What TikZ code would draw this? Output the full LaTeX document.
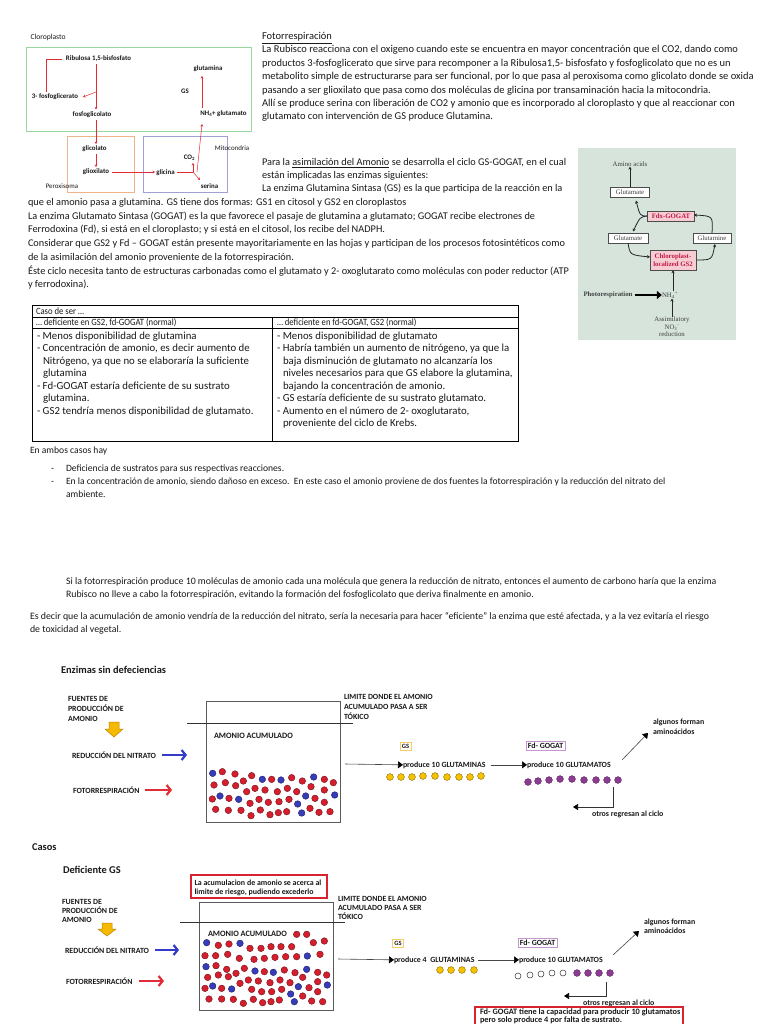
\documentclass[tikz,border=0pt]{standalone}
\usepackage{fontspec}
\setmainfont{Carlito}
\newfontfamily\figserif{Liberation Serif}
\usetikzlibrary{arrows.meta}
\definecolor{txt}{RGB}{25,25,25}
\definecolor{chlgreen}{RGB}{150,215,160}
\definecolor{perorange}{RGB}{240,180,140}
\definecolor{mitblue}{RGB}{160,160,215}
\definecolor{arrred}{RGB}{225,45,55}
\definecolor{figbg}{RGB}{214,228,220}
\definecolor{figpink}{RGB}{245,205,210}
\definecolor{figred}{RGB}{195,25,70}
\definecolor{dotred}{RGB}{215,30,45}
\definecolor{dotredl}{RGB}{110,20,30}
\definecolor{dotblue}{RGB}{55,60,185}
\definecolor{dotbluel}{RGB}{30,30,100}
\definecolor{dotpur}{RGB}{140,60,145}
\definecolor{dotpurl}{RGB}{90,30,95}
\definecolor{dotyel}{RGB}{245,195,0}
\definecolor{dotyell}{RGB}{140,100,0}
\definecolor{arryel}{RGB}{245,185,0}
\definecolor{arryell}{RGB}{190,130,0}
\definecolor{arrblue}{RGB}{50,60,200}
\definecolor{gsyel}{RGB}{245,205,100}
\definecolor{gogatpur}{RGB}{195,150,205}
\definecolor{boxred}{RGB}{215,35,45}
\definecolor{boxgray}{RGB}{90,90,90}
\newcommand{\fpara}{\fontsize{10.5}{12}\selectfont}
\newcommand{\fparb}{\fontsize{10.3}{12}\selectfont}
\newcommand{\ftab}{\fontsize{10.8}{12}\selectfont}
\newcommand{\ftxt}{\fontsize{9.6}{11}\selectfont}
\newcommand{\ftxb}{\fontsize{9.85}{11}\selectfont}
\newcommand{\fsm}{\fontsize{6.9}{8}\selectfont}
\newcommand{\fcap}{\fontsize{7.9}{9}\selectfont}
\newcommand{\ffig}{\fontsize{6.8}{7.6}\selectfont}
\newcommand{\RDot}[2]{\filldraw[fill=dotred,draw=dotredl,line width=0.4pt] (#1,#2) circle (3.3pt);}
\newcommand{\BDot}[2]{\filldraw[fill=dotblue,draw=dotbluel,line width=0.4pt] (#1,#2) circle (3.3pt);}
\newcommand{\YDot}[2]{\filldraw[fill=dotyel,draw=dotyell,line width=0.4pt] (#1,#2) circle (3.4pt);}
\newcommand{\PDot}[2]{\filldraw[fill=dotpur,draw=dotpurl,line width=0.4pt] (#1,#2) circle (3.4pt);}
\newcommand{\ODot}[2]{\draw[draw=black!80,line width=0.5pt] (#1,#2) circle (3pt);}
\begin{document}
\begin{tikzpicture}[x=1pt,y=-1pt,
  ln/.style={anchor=base west, inner sep=0pt, outer sep=0pt, text=txt},
  para/.style={ln, font=\fpara},
  parb/.style={ln, font=\fparb},
  tabl/.style={ln, font=\ftab},
  txtl/.style={ln, font=\ftxt},
  txtb/.style={ln, font=\ftxb},
  lab/.style={anchor=center, inner sep=0.3pt, font=\bfseries\fsm, text=txt},
  labn/.style={anchor=center, inner sep=0.3pt, font=\fsm, text=txt},
  capl/.style={ln, font=\bfseries\fcap},
  rarr/.style={draw=arrred, line width=0.5pt, -{Stealth[length=2.6pt,width=2.8pt]}},
  rline/.style={draw=arrred, line width=0.5pt},
  flowarr/.style={draw=gray!55!black, line width=0.6pt, -{Triangle[length=5pt,width=7pt,color=black]}},
  backarr/.style={draw=gray!40!black, line width=0.7pt, -{Triangle[length=5pt,width=6pt,color=black]}},
  bluearr/.style={draw=arrblue, line width=2.2pt, -{Straight Barb[length=4pt,width=10pt]}},
  redarr/.style={draw=arrred, line width=2.2pt, -{Straight Barb[length=4pt,width=10pt]}},
  yelarr/.style={fill=arryel, draw=arryell, line width=0.5pt},
  enzbox/.style={anchor=center, inner sep=1.8pt, font=\bfseries\fcap, text=txt, line width=0.8pt},
  figbox/.style={draw=gray!60!black, fill=white, line width=0.5pt, inner sep=0.8pt, font=\figserif\ffig, text=black!75},
  pinkbox/.style={draw=gray!60!black, fill=figpink, line width=0.5pt, inner sep=1pt, font=\figserif\bfseries\ffig, text=figred, align=center},
  figtxt/.style={inner sep=0pt, font=\figserif\ffig, text=black!75, align=center},
  figarr/.style={draw=black!85, line width=0.8pt, -{Stealth[length=3pt,width=3.2pt]}}
]
\useasboundingbox (0,0) rectangle (768,1024);
\fill[white] (0,0) rectangle (768,1024);
\clip (0,0) rectangle (768,1024);

% ---------------- chloroplast scheme ----------------
\node[labn, anchor=west, font=\fontsize{7.6}{8}\selectfont] (clot) at (30,37) {Cloroplasto};
\draw[chlgreen, line width=0.8pt] (26,47) rectangle (251,131);
\draw[perorange, line width=0.8pt] (67,136) rectangle (134,192);
\draw[mitblue, line width=0.8pt] (143,136) rectangle (227,192);
\node[lab] (ribu) at (98.5,59) {Ribulosa 1,5-bisfosfato};
\node[lab] (fgc) at (55,97) {3- fosfoglicerato};
\node[lab] (fgl) at (92,115) {fosfoglicolato};
\node[lab] (gtm) at (208,69) {glutamina};
\node[lab] (gsl) at (185,91) {GS};
\node[lab] (nh4) at (223.5,114) {NH\textsubscript{4}+ glutamato};
\node[lab] (glc) at (94.5,149) {glicolato};
\node[lab] (glx) at (96,172) {glioxilato};
\node[labn] (perox) at (62,186) {Peroxisoma};
\node[lab] (gli) at (165.5,173) {glicina};
\node[lab] (co2) at (189.5,158) {CO\textsubscript{2}};
\node[labn] (mito) at (232,148) {Mitocondria};
\node[lab] (ser) at (209.5,186) {serina};
\coordinate (rA) at (96,64); \coordinate (rB) at (96,109.5);
\coordinate (rC) at (96,92); \coordinate (rD) at (83,97);
\coordinate (rE) at (62,59); \coordinate (rF) at (46,59); \coordinate (rG) at (46,92);
\coordinate (rH) at (96,120); \coordinate (rI) at (96,144);
\coordinate (rJ) at (96,154); \coordinate (rK) at (96,167);
\coordinate (rL) at (112,172); \coordinate (rM) at (155,172);
\coordinate (rN) at (177,172); \coordinate (rO) at (193,172);
\coordinate (rP) at (193,163); \coordinate (rQ) at (200,180);
\coordinate (rR) at (197,172); \coordinate (rS) at (202,124);
\coordinate (rT) at (202,108); \coordinate (rU) at (202,76);
\draw[rarr] (rA) -- (rB);
\draw[rarr] (rC) -- (rD);
\draw[rline] (rE) -- (rF) -- (rG);
\draw[rarr] (rH) -- (rI);
\draw[rarr] (rJ) -- (rK);
\draw[rarr] (rL) -- (rM);
\draw[rline] (rN) -- (rO);
\draw[rarr] (rO) -- (rP);
\draw[rarr] (rO) -- (rQ);
\draw[rarr] (rR) -- (rS);
\draw[rarr] (rT) -- (rU);

% ---------------- top paragraph ----------------
\node[para] (t0) at (262,40) {\underline{Fotorrespiración}};
\node[para] (t1) at (262,53) {La Rubisco reacciona con el oxigeno cuando este se encuentra en mayor concentración que el CO2, dando como};
\node[para] (t2) at (262,66.5) {productos 3-fosfoglicerato que sirve para recomponer a la Ribulosa1,5- bisfosfato y fosfoglicolato que no es un};
\node[para] (t3) at (262,80) {metabolito simple de estructurarse para ser funcional, por lo que pasa al peroxisoma como glicolato donde se oxida};
\node[para] (t4) at (262,93.5) {pasando a ser glioxilato que pasa como dos moléculas de glicina por transaminación hacia la mitocondria.};
\node[para] (t5) at (262,107) {Allí se produce serina con liberación de CO2 y amonio que es incorporado al cloroplasto y que al reaccionar con};
\node[para] (t6) at (262,120) {glutamato con intervención de GS produce Glutamina.};

% ---------------- second block ----------------
\node[parb] (s0) at (262,166) {Para la \underline{asimilación del Amonio} se desarrolla el ciclo GS-GOGAT, en el cual};
\node[parb] (s1) at (262,179) {están implicadas las enzimas siguientes:};
\node[parb] (s2) at (262,192) {La enzima Glutamina Sintasa (GS) es la que participa de la reacción en la};
\node[parb] (s3) at (28,206) {que el amonio pasa a glutamina. GS tiene dos formas: GS1 en citosol y GS2 en cloroplastos};
\node[parb] (s4) at (28,219) {La enzima Glutamato Sintasa (GOGAT) es la que favorece el pasaje de glutamina a glutamato; GOGAT recibe electrones de};
\node[parb] (s5) at (28,233) {Ferrodoxina (Fd), si está en el cloroplasto; y si está en el citosol, los recibe del NADPH.};
\node[parb] (s6) at (28,246) {Considerar que GS2 y Fd – GOGAT están presente mayoritariamente en las hojas y participan de los procesos fotosintéticos como};
\node[parb] (s7) at (28,260) {de la asimilación del amonio proveniente de la fotorrespiración.};
\node[parb] (s8) at (28,274) {Éste ciclo necesita tanto de estructuras carbonadas como el glutamato y 2- oxoglutarato como moléculas con poder reductor (ATP};
\node[parb] (s9) at (28,287) {y ferrodoxina).};

% ---------------- right figure ----------------
\fill[figbg] (578,148) rectangle (736,340);
\node[figtxt] (amino) at (630,164) {Amino acids};
\node[figbox, minimum width=39pt, minimum height=10pt] (glu1) at (630,192) {Glutamate};
\node[pinkbox, minimum width=47pt, minimum height=10pt] (gogat) at (671,216) {Fdx-GOGAT};
\node[figbox, minimum width=40pt, minimum height=9.5pt] (glu2) at (628,238) {Glutamate};
\node[figbox, minimum width=38pt, minimum height=9.5pt] (gln) at (712,238) {Glutamine};
\node[pinkbox, minimum width=46pt, minimum height=20pt, inner sep=0.5pt] (gs2) at (673,260) {Chloroplast-\\localized GS2};
\node[figtxt, font=\figserif\bfseries\ffig] (photo) at (608,295) {Photorespiration};
\node[figtxt] (nh4f) at (670,295) {NH\textsubscript{4}\textsuperscript{+}};
\node[figtxt] (assim) at (672,327) {Assimilatory\\NO\textsubscript{3}\textsuperscript{-}\\reduction};
\draw[figarr] (glu1.north) -- (amino.south);
\draw[line width=2.6pt, black, -{Triangle[length=5pt,width=8pt]}] (photo.east) ++(2,0) coordinate (phA) (phA) -- (nh4f.west);
\draw[figarr] (nh4f.north -| gs2.south) -- (gs2.south);
\draw[figarr] (assim.north) -- (nh4f.south -| assim.north);
\coordinate (ga1) at (636,200.5);
\coordinate (ga2) at (633,231.5);
\coordinate (ga3) at (650,257);
\coordinate (ga4) at (715,244);
\coordinate (ga5) at (694,215);
\draw[figarr] (gogat.west) .. controls (640,216) .. (ga1);
\draw[figarr] (gogat.west) .. controls (640,217) .. (ga2);
\draw[figarr] (glu2.south) .. controls (630,255) .. (ga3);
\draw[figarr] (gs2.east) .. controls (712,260) .. (ga4);
\draw[figarr] (gln.north) .. controls (713,216) .. (ga5);

% ---------------- table ----------------
\draw[black, line width=0.8pt] (32,305) rectangle (518,441);
\draw[black, line width=0.8pt] (32,317) -- (518,317);
\draw[black, line width=0.8pt] (32,328) -- (518,328);
\draw[black, line width=0.8pt] (272,317) -- (272,441);
\node[txtl] (h0) at (36,314.5) {\scalebox{0.9}[1]{Caso de ser …}};
\node[txtl] (h1) at (36,325.5) {\scalebox{0.9}[1]{… deficiente en GS2, fd-GOGAT (normal)}};
\node[txtl] (h2) at (277,325.5) {\scalebox{0.9}[1]{… deficiente en fd-GOGAT, GS2 (normal)}};
\node[tabl] (l1) at (37,339) {- Menos disponibilidad de glutamina};
\node[tabl] (l2) at (37,351.5) {- Concentración de amonio, es decir aumento de};
\node[tabl] (l3) at (43,364) {Nitrógeno, ya que no se elaboraría la suficiente};
\node[tabl] (l4) at (43,376.5) {glutamina};
\node[tabl] (l5) at (37,389) {- Fd-GOGAT estaría deficiente de su sustrato};
\node[tabl] (l6) at (43,401.5) {glutamina.};
\node[tabl] (l7) at (37,414) {- GS2 tendría menos disponibilidad de glutamato.};
\node[tabl] (r1) at (277,339) {- Menos disponibilidad de glutamato};
\node[tabl] (r2) at (277,351.5) {- Habría también un aumento de nitrógeno, ya que la};
\node[tabl] (r3) at (283,364) {baja disminución de glutamato no alcanzaría los};
\node[tabl] (r4) at (283,376.5) {niveles necesarios para que GS elabore la glutamina,};
\node[tabl] (r5) at (283,389) {bajando la concentración de amonio.};
\node[tabl] (r6) at (277,401.5) {- GS estaría deficiente de su sustrato glutamato.};
\node[tabl] (r7) at (277,414) {- Aumento en el número de 2- oxoglutarato,};
\node[tabl] (r8) at (283,426.5) {proveniente del ciclo de Krebs.};

% ---------------- texts below table ----------------
\node[txtl] (amb) at (30,453) {En ambos casos hay};
\node[txtl] (d1) at (51,471) {-};
\node[txtl] (b1) at (66,471) {Deficiencia de sustratos para sus respectivas reacciones.};
\node[txtl] (d2) at (51,484) {-};
\node[txtl] (b2) at (66,484) {En la concentración de amonio, siendo dañoso en exceso.\ \ En este caso el amonio proviene de dos fuentes la fotorrespiración y la reducción del nitrato del};
\node[txtl] (b3) at (66,497) {ambiente.};
\node[txtb] (p1) at (66,584) {Si la fotorrespiración produce 10 moléculas de amonio cada una molécula que genera la reducción de nitrato, entonces el aumento de carbono haría que la enzima};
\node[txtb] (p2) at (66,597) {Rubisco no lleve a cabo la fotorrespiración, evitando la formación del fosfoglicolato que deriva finalmente en amonio.};
\node[txtb] (p3) at (30,619) {Es decir que la acumulación de amonio vendría de la reducción del nitrato, sería la necesaria para hacer “eficiente” la enzima que esté afectada, y a la vez evitaría el riesgo};
\node[txtb] (p4) at (30,632) {de toxicidad al vegetal.};

% ---------------- diagram 1 ----------------
\node[ln, font=\bfseries\fontsize{10.4}{11}\selectfont] (hd1) at (61,673.5) {Enzimas sin defeciencias};
\node[capl] (fa1) at (68,701) {FUENTES DE};
\node[capl] (fb1) at (68,711) {PRODUCCIÓN DE};
\node[capl] (fc1) at (68,721) {AMONIO};
\filldraw[yelarr] (109,722) -- (119,722) -- (119,729) -- (123,729) -- (114,737) -- (105,729) -- (109,729) -- cycle;
\node[capl] (nit1) at (72,758) {REDUCCIÓN DEL NITRATO};
\node[capl] (fot1) at (73,793) {FOTORRESPIRACIÓN};
\coordinate (ba1) at (162,755); \coordinate (bb1) at (187,755);
\coordinate (ra1) at (145,790); \coordinate (rb1) at (172,790);
\draw[bluearr] (ba1) -- (bb1);
\draw[redarr] (ra1) -- (rb1);
\draw[boxgray, line width=0.8pt] (206,701) rectangle (340,822);
\coordinate (la1) at (187,723); \coordinate (lb1) at (353,723);
\draw[black!80, line width=0.6pt] (la1) -- (lb1);
\node[capl] (lim1a) at (344,699) {LIMITE DONDE EL AMONIO};
\node[capl] (lim1b) at (344,709) {ACUMULADO PASA A SER};
\node[capl] (lim1c) at (344,719) {TÓKICO};
\node[ln, font=\bfseries\fontsize{8.2}{9}\selectfont] (acu1) at (214,738) {AMONIO ACUMULADO};
\begin{scope}[shift={(25,655)}, x=0.33333pt, y=-0.33333pt]
\RDot{592}{350}\RDot{630}{357}\RDot{680}{362}\RDot{740}{373}\RDot{800}{368}\RDot{832}{378}\RDot{898}{373}\RDot{925}{383}
\RDot{567}{390}\RDot{601}{383}\RDot{632}{392}\RDot{655}{378}\RDot{690}{400}\RDot{665}{410}\RDot{720}{405}\RDot{757}{410}
\RDot{787}{400}\RDot{815}{410}\RDot{858}{395}\RDot{898}{405}\RDot{562}{432}\RDot{612}{430}\RDot{675}{445}\RDot{702}{433}
\RDot{730}{442}\RDot{762}{440}\RDot{792}{433}\RDot{870}{430}\RDot{898}{442}\RDot{572}{463}\RDot{610}{466}\RDot{648}{466}
\RDot{678}{482}\RDot{706}{465}\RDot{735}{479}\RDot{760}{473}\RDot{785}{470}\RDot{855}{460}\RDot{882}{472}\RDot{915}{470}
\BDot{563}{355}\BDot{712}{373}\BDot{768}{375}\BDot{866}{366}\BDot{929}{420}\BDot{585}{423}\BDot{641}{433}\BDot{842}{423}
\BDot{818}{447}\BDot{830}{474}
\end{scope}
\coordinate (fa) at (345,764);
\node[enzbox, draw=gsyel, font=\bfseries\fontsize{6.5}{7}\selectfont] (gsb1) at (405.5,746) {GS};
\node[capl] (pg1) at (403,767) {produce 10 GLUTAMINAS};
\draw[flowarr] (fa) -- (pg1.west);
\YDot{390}{777}\YDot{401}{777}\YDot{412}{777}\YDot{423}{776}\YDot{435}{776}\YDot{447}{777}\YDot{459}{777}\YDot{470}{777}\YDot{481}{776}
\node[enzbox, draw=gogatpur] (gog1) at (545.5,746) {Fd- GOGAT};
\node[capl] (pm1) at (527,767) {produce 10 GLUTAMATOS};
\draw[flowarr] (pg1.east) ++(5,0) coordinate (fb) (fb) -- (pm1.west);
\PDot{528}{782}\PDot{538}{781}\PDot{549}{780}\PDot{560}{779}\PDot{572}{779}\PDot{584}{780}\PDot{596}{780}\PDot{607}{780}\PDot{618}{780}
\coordinate (ua1) at (622,760); \coordinate (ub1) at (648,733);
\draw[flowarr] (ua1) -- (ub1);
\node[capl] (alg1) at (653,724) {algunos forman};
\node[capl] (ami1) at (653,734) {aminoácidos};
\coordinate (ka1) at (613,787); \coordinate (kb1) at (613,807); \coordinate (kc1) at (573,807);
\draw[backarr] (ka1) -- (kb1) -- (kc1);
\node[capl] (otr1) at (592,816) {otros regresan al ciclo};

% ---------------- diagram 2 ----------------
\node[ln, font=\bfseries\fontsize{10.4}{11}\selectfont] (casos) at (32,850.5) {Casos};
\node[ln, font=\bfseries\fontsize{10.4}{11}\selectfont] (hd2) at (63,873.5) {Deficiente GS};
\draw[boxred, line width=1.2pt] (191,875) rectangle (327,898);
\node[ln, font=\bfseries\fontsize{7.9}{9}\selectfont] (warn1) at (194.5,885.5) {La acumulacion de amonio se acerca al};
\node[ln, font=\bfseries\fontsize{7.9}{9}\selectfont] (warn2) at (194.5,894.5) {limite de riesgo, pudiendo excederlo};
\node[capl] (fa2) at (62,904) {FUENTES DE};
\node[capl] (fb2) at (62,913) {PRODUCCIÓN DE};
\node[capl] (fc2) at (62,922) {AMONIO};
\filldraw[yelarr] (102,923) -- (112,923) -- (112,929) -- (116,929) -- (107,936) -- (98,929) -- (102,929) -- cycle;
\node[capl] (nit2) at (65,953) {REDUCCIÓN DEL NITRATO};
\node[capl] (fot2) at (66,984) {FOTORRESPIRACIÓN};
\coordinate (ba2) at (155,950); \coordinate (bb2) at (179,950);
\coordinate (ra2) at (139,981); \coordinate (rb2) at (164,981);
\draw[bluearr] (ba2) -- (bb2);
\draw[redarr] (ra2) -- (rb2);
\draw[boxgray, line width=0.8pt] (199,902) rectangle (333,1010);
\coordinate (la2) at (180,922); \coordinate (lb2) at (345,922);
\draw[black!80, line width=0.6pt] (la2) -- (lb2);
\node[capl] (lim2a) at (338,901) {LIMITE DONDE EL AMONIO};
\node[capl] (lim2b) at (338,910) {ACUMULADO PASA A SER};
\node[capl] (lim2c) at (338,919) {TÓKICO};
\node[ln, font=\bfseries\fontsize{8.2}{9}\selectfont] (acu2) at (208,936) {AMONIO ACUMULADO};
\begin{scope}[shift={(25,840)}, x=0.33333pt, y=-0.33333pt]
\RDot{815}{283}\RDot{845}{283}\RDot{580}{316}\RDot{612}{312}\RDot{675}{325}\RDot{708}{325}\RDot{738}{320}\RDot{768}{320}
\RDot{800}{320}\RDot{865}{308}\RDot{898}{303}\RDot{540}{347}\RDot{572}{347}\RDot{608}{343}\RDot{643}{355}\RDot{687}{358}
\RDot{718}{355}\RDot{750}{352}\RDot{782}{350}\RDot{815}{350}\RDot{885}{343}\RDot{573}{377}\RDot{605}{388}\RDot{658}{385}
\RDot{718}{395}\RDot{778}{390}\RDot{810}{398}\RDot{878}{397}\RDot{905}{405}\RDot{548}{412}\RDot{580}{405}\RDot{610}{410}
\RDot{633}{400}\RDot{670}{420}\RDot{700}{423}\RDot{735}{428}\RDot{765}{420}\RDot{795}{428}\RDot{833}{412}\RDot{878}{425}
\RDot{540}{445}\RDot{590}{445}\RDot{645}{430}\RDot{680}{448}\RDot{710}{455}\RDot{740}{455}\RDot{770}{448}\RDot{852}{443}
\RDot{878}{455}\RDot{552}{477}\RDot{590}{477}\RDot{625}{478}\RDot{655}{490}\RDot{685}{478}\RDot{713}{488}\RDot{738}{485}
\RDot{763}{480}\RDot{833}{468}\RDot{860}{483}\RDot{893}{485}
\BDot{545}{308}\BDot{645}{310}\BDot{847}{348}\BDot{543}{380}\BDot{690}{393}\BDot{745}{397}\BDot{845}{388}\BDot{563}{438}
\BDot{620}{447}\BDot{820}{440}\BDot{907}{435}\BDot{797}{462}\BDot{808}{485}
\end{scope}
\coordinate (fc) at (338,959);
\node[enzbox, draw=gsyel, font=\bfseries\fontsize{6.5}{7}\selectfont] (gsb2) at (398,943) {GS};
\node[capl] (pg2) at (394,962) {produce 4\ \ GLUTAMINAS};
\draw[flowarr] (fc) -- (pg2.west);
\YDot{440}{970}\YDot{451}{970}\YDot{462}{970}\YDot{474}{970}
\node[enzbox, draw=gogatpur] (gog2) at (537.5,942.5) {Fd- GOGAT};
\node[capl] (pm2) at (519,962) {produce 10 GLUTAMATOS};
\draw[flowarr] (pg2.east) ++(4,0) coordinate (fd) (fd) -- (pm2.west);
\ODot{518}{976}\ODot{530}{975}\ODot{541}{974}\ODot{552}{973}\ODot{563}{973}
\PDot{577}{973}\PDot{588}{973}\PDot{599}{973}\PDot{610}{973}
\coordinate (ua2) at (613,955); \coordinate (ub2) at (639,931);
\draw[flowarr] (ua2) -- (ub2);
\node[capl] (alg2) at (644,924) {algunos forman};
\node[capl] (ami2) at (644,933) {aminoácidos};
\coordinate (ka2) at (606,982); \coordinate (kb2) at (606,996); \coordinate (kc2) at (564,996);
\draw[backarr] (ka2) -- (kb2) -- (kc2);
\node[capl] (otr2) at (583,1005) {otros regresan al ciclo};
\draw[boxred, line width=1.2pt] (475,1007) rectangle (683,1032);
\node[ln, font=\bfseries\fontsize{8.3}{9}\selectfont] (cap1) at (480,1014.5) {Fd- GOGAT tiene la capacidad para producir 10 glutamatos};
\node[ln, font=\bfseries\fontsize{8.3}{9}\selectfont] (cap2) at (480,1022.6) {pero solo produce 4 por falta de sustrato.};
\end{tikzpicture}
\end{document}
